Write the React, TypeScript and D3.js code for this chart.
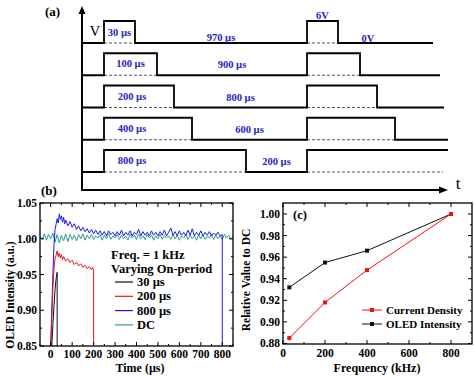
import React from "react";
import * as d3 from "d3";

// ---------- Panel (a): pulse schematic data ----------
const onPeriods = [30, 100, 200, 400, 800]; // µs
const offPeriods = [970, 900, 800, 600, 200]; // µs
// schematic (non-proportional) time axis used in the drawing
const schemTimes = [-110, 0, 30, 100, 200, 400, 800, 1000];
const schemPx = [82, 104, 135, 157, 174, 192, 246, 307];
const rowEndX = [433, 440, 444, 448, 448];

// ---------- Panel (b): OLED intensity vs time ----------
const dcStart = -50;
const dcStep = 10;
const dcValues = [
  1.004, 0.999, 1.007, 0.998, 1.006, 1.0, 1.008, 0.995, 1.006, 0.994,
  1.005, 0.997, 1.007, 0.996, 1.006, 0.999, 1.005, 0.997, 1.006, 1.0,
  1.007, 0.998, 1.005, 1.0, 1.006, 0.999, 1.004, 1.001, 1.006, 0.998,
  1.005, 1.0, 1.007, 0.999, 1.004, 1.001, 1.006, 0.999, 1.005, 1.0,
  1.004, 0.998, 1.006, 1.001, 1.005, 0.999, 1.006, 1.0, 1.004, 0.999,
  1.006, 1.001, 1.005, 0.998, 1.004, 1.0, 1.006, 0.999, 1.005, 1.001,
  1.004, 0.999, 1.006, 1.0, 1.005, 0.998, 1.004, 1.001, 1.006, 0.999,
  1.005, 1.0, 1.004, 0.998, 1.006, 1.0, 1.005, 0.999, 1.004, 1.001,
  1.006, 0.999, 1.005, 1.0, 1.004, 0.999, 1.006, 1.001, 1.005, 0.999, 1.003,
];
const t30 = [5, 10, 15, 20, 25, 30, 30];
const v30 = [0.85, 0.88, 0.905, 0.928, 0.944, 0.953, 0.85];
const t200 = [0, 5, 10, 15, 20, 25, 30, 35, 40, 45, 50, 55, 60, 70, 80, 90, 100, 110, 120, 130, 140, 150, 160, 170, 180, 190, 195, 200, 200];
const v200 = [0.85, 0.89, 0.93, 0.958, 0.972, 0.977, 0.983, 0.975, 0.98, 0.973, 0.978, 0.971, 0.975, 0.969, 0.972, 0.967, 0.97, 0.964, 0.967, 0.962, 0.965, 0.96, 0.963, 0.958, 0.961, 0.957, 0.96, 0.956, 0.85];
const t800 = [0, 5, 10, 15, 20, 25, 30, 35, 40, 45, 50, 55, 60, 65, 70, 80, 90, 100, 110, 120, 130, 140, 150, 160, 170, 180, 190, 200, 210, 220, 230, 240, 250, 260, 270, 280, 290, 300, 310, 320, 330, 340, 350, 360, 370, 380, 390, 400, 410, 420, 430, 440, 450, 460, 470, 480, 490, 500, 510, 520, 530, 540, 550, 560, 570, 580, 590, 600, 610, 620, 630, 640, 650, 660, 670, 680, 690, 700, 710, 720, 730, 740, 750, 760, 770, 780, 790, 800, 800];
const v800 = [0.85, 0.9, 0.95, 0.99, 1.013, 1.02, 1.028, 1.022, 1.035, 1.027, 1.032, 1.023, 1.03, 1.021, 1.026, 1.018, 1.024, 1.016, 1.021, 1.013, 1.018, 1.011, 1.016, 1.01, 1.014, 1.008, 1.013, 1.007, 1.012, 1.006, 1.011, 1.005, 1.01, 1.004, 1.011, 1.006, 1.009, 1.004, 1.01, 1.005, 1.012, 1.004, 1.009, 1.005, 1.011, 1.004, 1.009, 1.006, 1.013, 1.004, 1.01, 1.005, 1.009, 1.004, 1.011, 1.005, 1.009, 1.004, 1.01, 1.005, 1.012, 1.004, 1.009, 1.015, 1.005, 1.01, 1.004, 1.011, 1.005, 1.009, 1.004, 1.012, 1.005, 1.014, 1.004, 1.009, 1.005, 1.011, 1.004, 1.009, 1.005, 1.01, 1.004, 1.008, 1.005, 1.009, 1.004, 1.006, 0.85];
const bLegend = ["30 µs", "200 µs", "800 µs", "DC"];
const bColors = ["#111111", "#ee1111", "#1a1aee", "#2e9c8f"];
const bYTicks = [0.85, 0.9, 0.95, 1.0, 1.05];
const bXTicks = [0, 100, 200, 300, 400, 500, 600, 700, 800];

// ---------- Panel (c): relative value vs frequency ----------
const freq = [30, 200, 400, 800];
const currentDensity = [0.885, 0.918, 0.948, 1.0];
const oledIntensity = [0.932, 0.955, 0.966, 1.0];
const cYTicks = [0.88, 0.9, 0.92, 0.94, 0.96, 0.98, 1.0];
const cXTicks = [0, 200, 400, 600, 800];

const SERIF = "'Liberation Serif', 'Times New Roman', serif";
const BLUE_TXT = "#2424c8";

export default function App() {
  // ---- panel (a) ----
  const xA = d3.scaleLinear().domain(schemTimes).range(schemPx);
  const period = xA(1000) - xA(0);
  const yRow = d3.scaleLinear().domain([0, 4]).range([43, 172]);
  const pulseH = 22;

  const rowsA = onPeriods.map((on, i) => {
    const base = yRow(i);
    const top = base - pulseH;
    const rise = xA(0);
    const fall = xA(on);
    const rise2 = rise + period;
    const fall2 = fall + period;
    const end = rowEndX[i];
    const p = d3.path();
    p.moveTo(xA(-110), base);
    p.lineTo(rise, base);
    p.lineTo(rise, top);
    p.lineTo(fall, top);
    p.lineTo(fall, base);
    p.lineTo(rise2, base);
    p.lineTo(rise2, top);
    if (fall2 < end) {
      p.lineTo(fall2, top);
      p.lineTo(fall2, base);
      p.lineTo(end, base);
    } else {
      p.lineTo(end, top);
    }
    const dashes: [number, number][] = [[rise, fall]];
    dashes.push([rise2, Math.min(fall2, end - 5)]);
    return { i, base, top, rise, fall, rise2, fall2, end, d: p.toString(), dashes, on, off: offPeriods[i] };
  });

  // ---- panel (b) ----
  const xB = d3.scaleLinear().domain([-50, 850]).range([40, 233]);
  const yB = d3.scaleLinear().domain([0.85, 1.05]).range([346, 203]);
  const lineB = d3
    .line<[number, number]>()
    .x((d) => xB(d[0]))
    .y((d) => yB(d[1]));
  const dcPts: [number, number][] = dcValues.map((v, i) => [dcStart + i * dcStep, v]);
  const s30: [number, number][] = t30.map((t, i) => [t, v30[i]]);
  const s200: [number, number][] = t200.map((t, i) => [t, v200[i]]);
  const s800: [number, number][] = t800.map((t, i) => [t, v800[i]]);
  const bMinorX = d3.range(-50, 851, 50).filter((v) => v % 100 !== 0);
  const bMinorY = [0.875, 0.925, 0.975, 1.025];

  // ---- panel (c) ----
  const xC = d3.scaleLinear().domain([0, 900]).range([283, 472]);
  const yC = d3.scaleLinear().domain([0.8795, 1.0102]).range([344, 203]);
  const lineC = d3
    .line<number>()
    .x((_, i) => xC(freq[i]))
    .y((d) => yC(d));
  const cMinorX = [100, 300, 500, 700];
  const cMinorY = [0.89, 0.91, 0.93, 0.95, 0.97, 0.99];

  const tickFont = { fontFamily: SERIF, fontWeight: 700, fontSize: 11.5 } as const;
  const blueFont = { fontFamily: SERIF, fontWeight: 700, fontSize: 10.5 } as const;

  return (
    <svg width={474} height={376} style={{ position: "absolute", left: 0, top: 0, background: "#fff" }}>
      <defs>
        <clipPath id="clipB">
          <rect x={40} y={203} width={193} height={143} />
        </clipPath>
      </defs>
      {/* ================= Panel (a) ================= */}
      <text x={45} y={16} style={{ fontFamily: SERIF, fontWeight: 700, fontSize: 13 }}>(a)</text>
      <line x1={82} y1={191} x2={82} y2={12} stroke="#000" strokeWidth={2} />
      <path d="M82,6 L78.5,14 L85.5,14 Z" fill="#000" />
      <line x1={81} y1={190} x2={440} y2={190} stroke="#000" strokeWidth={2} />
      <path d="M448,190 L439,186.5 L439,193.5 Z" fill="#000" />
      <text x={95} y={36} textAnchor="middle" style={{ fontFamily: SERIF, fontSize: 15 }}>V</text>
      <text x={458} y={189} textAnchor="middle" style={{ fontFamily: SERIF, fontSize: 17 }}>t</text>
      {rowsA.map((r) => (
        <g key={r.i}>
          {r.dashes.map((dd, k) => (
            <line key={k} x1={dd[0]} x2={dd[1]} y1={r.base} y2={r.base} stroke="#555" strokeWidth={1} strokeDasharray="3,2" />
          ))}
          <path d={r.d} fill="none" stroke="#000" strokeWidth={1.8} />
          <text x={r.rise + Math.min((r.fall - r.rise) / 2, 28)} y={r.base - (r.i === 0 ? 7 : 8)} textAnchor="middle" fill={BLUE_TXT} style={blueFont}>
            {r.on} µs
          </text>
          <text x={(r.fall + r.rise2) / 2} y={r.base - (r.i === 0 ? 2 : 7)} textAnchor="middle" fill={BLUE_TXT} style={blueFont}>
            {r.off} µs
          </text>
          {r.i === 0 && (
            <>
              <text x={(r.rise2 + r.fall2) / 2} y={r.top - 2} textAnchor="middle" fill={BLUE_TXT} style={blueFont}>6V</text>
              <text x={r.fall2 + 30} y={r.base - 1} textAnchor="middle" fill={BLUE_TXT} style={blueFont}>0V</text>
            </>
          )}
        </g>
      ))}

      {/* ================= Panel (b) ================= */}
      <text x={41} y={195} style={{ fontFamily: SERIF, fontWeight: 700, fontSize: 13 }}>(b)</text>
      <g clipPath="url(#clipB)">
        <path d={lineB(dcPts) || ""} fill="none" stroke={bColors[3]} strokeWidth={1} />
        <path d={lineB(s800) || ""} fill="none" stroke={bColors[2]} strokeWidth={1} />
        <path d={lineB(s200) || ""} fill="none" stroke={bColors[1]} strokeWidth={1} />
        <path d={lineB(s30) || ""} fill="none" stroke={bColors[0]} strokeWidth={1} />
      </g>
      <rect x={40} y={203} width={193} height={143} fill="none" stroke="#000" strokeWidth={1.3} />
      {bXTicks.map((t) => (
        <g key={t}>
          <line x1={xB(t)} x2={xB(t)} y1={346} y2={342} stroke="#000" strokeWidth={1} />
          <line x1={xB(t)} x2={xB(t)} y1={203} y2={207} stroke="#000" strokeWidth={1} />
          <text x={xB(t)} y={358} textAnchor="middle" style={tickFont}>{t}</text>
        </g>
      ))}
      {bMinorX.map((t) => (
        <g key={t}>
          <line x1={xB(t)} x2={xB(t)} y1={346} y2={344} stroke="#000" strokeWidth={1} />
          <line x1={xB(t)} x2={xB(t)} y1={203} y2={205} stroke="#000" strokeWidth={1} />
        </g>
      ))}
      {bYTicks.map((v) => (
        <g key={v}>
          <line x1={40} x2={44} y1={yB(v)} y2={yB(v)} stroke="#000" strokeWidth={1} />
          <line x1={233} x2={229} y1={yB(v)} y2={yB(v)} stroke="#000" strokeWidth={1} />
          <text x={37} y={yB(v) + 4} textAnchor="end" style={tickFont}>{v.toFixed(2)}</text>
        </g>
      ))}
      {bMinorY.map((v) => (
        <g key={v}>
          <line x1={40} x2={42} y1={yB(v)} y2={yB(v)} stroke="#000" strokeWidth={1} />
          <line x1={233} x2={231} y1={yB(v)} y2={yB(v)} stroke="#000" strokeWidth={1} />
        </g>
      ))}
      <text transform="translate(14,295) rotate(-90)" textAnchor="middle" style={{ fontFamily: SERIF, fontWeight: 700, fontSize: 11.5 }}>OLED Intensity (a.u.)</text>
      <text x={140} y={372} textAnchor="middle" style={{ fontFamily: SERIF, fontWeight: 700, fontSize: 12 }}>Time (µs)</text>
      <text x={111} y={259} style={{ fontFamily: SERIF, fontWeight: 700, fontSize: 12.5 }}>Freq. = 1 kHz</text>
      <text x={111} y={273} style={{ fontFamily: SERIF, fontWeight: 700, fontSize: 12.5 }}>Varying On-period</text>
      {bLegend.map((name, i) => (
        <g key={name}>
          <line x1={115} x2={133} y1={282 + i * 14.3} y2={282 + i * 14.3} stroke={bColors[i]} strokeWidth={1.2} />
          <text x={137} y={286 + i * 14.3} style={{ fontFamily: SERIF, fontWeight: 700, fontSize: 12.5 }}>{name}</text>
        </g>
      ))}

      {/* ================= Panel (c) ================= */}
      <path d={lineC(oledIntensity) || ""} fill="none" stroke="#111" strokeWidth={1} />
      <path d={lineC(currentDensity) || ""} fill="none" stroke="#ee1111" strokeWidth={1} />
      {freq.map((f, i) => (
        <g key={f}>
          <rect x={xC(f) - 2} y={yC(oledIntensity[i]) - 2} width={4} height={4} fill="#111" />
          <rect x={xC(f) - 2} y={yC(currentDensity[i]) - 2} width={4} height={4} fill="#ee1111" />
        </g>
      ))}
      <rect x={283} y={203} width={189} height={141} fill="none" stroke="#000" strokeWidth={1.3} />
      {cXTicks.map((t) => (
        <g key={t}>
          <line x1={xC(t)} x2={xC(t)} y1={344} y2={340} stroke="#000" strokeWidth={1} />
          <line x1={xC(t)} x2={xC(t)} y1={203} y2={207} stroke="#000" strokeWidth={1} />
          <text x={xC(t)} y={357} textAnchor="middle" style={tickFont}>{t}</text>
        </g>
      ))}
      {cMinorX.map((t) => (
        <g key={t}>
          <line x1={xC(t)} x2={xC(t)} y1={344} y2={342} stroke="#000" strokeWidth={1} />
          <line x1={xC(t)} x2={xC(t)} y1={203} y2={205} stroke="#000" strokeWidth={1} />
        </g>
      ))}
      {cYTicks.map((v) => (
        <g key={v}>
          <line x1={283} x2={287} y1={yC(v)} y2={yC(v)} stroke="#000" strokeWidth={1} />
          <line x1={472} x2={468} y1={yC(v)} y2={yC(v)} stroke="#000" strokeWidth={1} />
          <text x={280} y={yC(v) + 4} textAnchor="end" style={tickFont}>{v.toFixed(2)}</text>
        </g>
      ))}
      {cMinorY.map((v) => (
        <g key={v}>
          <line x1={283} x2={285} y1={yC(v)} y2={yC(v)} stroke="#000" strokeWidth={1} />
          <line x1={472} x2={470} y1={yC(v)} y2={yC(v)} stroke="#000" strokeWidth={1} />
        </g>
      ))}
      <text x={293} y={219} style={{ fontFamily: SERIF, fontWeight: 700, fontSize: 12.5 }}>(c)</text>
      <text transform="translate(250,280) rotate(-90)" textAnchor="middle" style={{ fontFamily: SERIF, fontWeight: 700, fontSize: 11.5 }}>Relative Value to DC</text>
      <text x={377} y={372} textAnchor="middle" style={{ fontFamily: SERIF, fontWeight: 700, fontSize: 12 }}>Frequency (kHz)</text>
      {["Current Density", "OLED Intensity"].map((name, i) => (
        <g key={name}>
          <line x1={362} x2={382} y1={310 + i * 14} y2={310 + i * 14} stroke={i === 0 ? "#ee1111" : "#111"} strokeWidth={1} />
          <rect x={370} y={308 + i * 14} width={4} height={4} fill={i === 0 ? "#ee1111" : "#111"} />
          <text x={386} y={314 + i * 14} style={{ fontFamily: SERIF, fontWeight: 700, fontSize: 11 }}>{name}</text>
        </g>
      ))}
    </svg>
  );
}
